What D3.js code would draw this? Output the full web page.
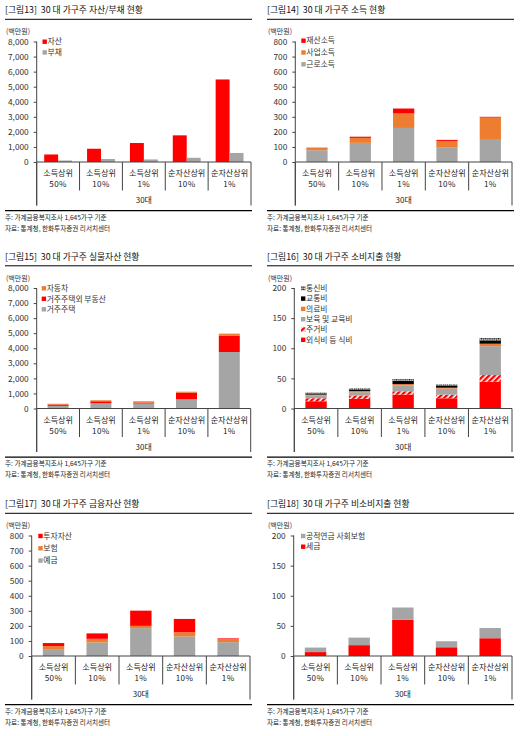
<!DOCTYPE html>
<html>
<head>
<meta charset="utf-8">
<script src="https://cdn.jsdelivr.net/npm/d3@7"></script>
<style>
body { margin: 0; background: #fff; }
text { font-family: "Noto Sans CJK KR", "Noto Sans", sans-serif; }
</style>
</head>
<body>
<svg id="chart" width="525" height="736"></svg>
<script>
// categories (two-line labels) shared by every panel
var cat1 = ["소득상위", "소득상위", "소득상위", "순자산상위", "순자산상위"];
var cat2 = ["50%", "10%", "1%", "10%", "1%"];
var groupLabel = "30대";

// 그림13 자산/부채
var assets = [500, 880, 1260, 1770, 5480];
var debts = [100, 200, 170, 280, 600];
// 그림14 소득 (stack order bottom -> top)
var laborInc = [78, 127, 226, 95, 147];
var bizInc = [17, 33, 96, 45, 148];
var propInc = [1, 8, 33, 7, 5];
// 그림15 실물자산
var homeRE = [175, 350, 330, 610, 3750];
var otherRE = [90, 130, 65, 440, 1070];
var cars = [50, 65, 85, 65, 150];
// 그림16 소비지출
var food = [12, 16, 23, 17, 44.5];
var housing = [5, 5.5, 5.5, 6, 11];
var eduCare = [4.5, 5.5, 10, 10, 48];
var medical = [1.5, 2, 2, 1.5, 4];
var transport = [2, 2.5, 5.5, 3.5, 5.5];
var telecom = [1.5, 2.5, 3, 2.5, 4];
// 그림17 금융자산
var deposits = [46, 90, 185, 130, 92];
var insurance = [20, 24, 15, 28, 20];
var investments = [20, 36, 101, 88, 5];
// 그림18 비소비지출
var taxes = [6.5, 18, 60, 14.5, 29.5];
var socialIns = [7.5, 12.5, 20.5, 10, 17];

var note1 = "주: 가계금융복지조사 1,645가구 기준";
var note2 = "자료: 통계청, 한화투자증권 리서치센터";

var RED = "#FF0000", GREY = "#A5A5A5", ORANGE = "#ED7D31", BLACK = "#000000";

var svg = d3.select("#chart");
var defs = svg.append("defs");

// red/white diagonal hatch for 주거비
var hatch = defs.append("pattern").attr("id", "hatchRed")
    .attr("patternUnits", "userSpaceOnUse").attr("width", 4).attr("height", 4)
    .attr("patternTransform", "rotate(45)");
hatch.append("rect").attr("width", 4).attr("height", 4).attr("fill", "#fff");
hatch.append("rect").attr("width", 2.4).attr("height", 4).attr("fill", RED);

// black/white checks for 통신비
var check = defs.append("pattern").attr("id", "checkBlack")
    .attr("patternUnits", "userSpaceOnUse").attr("width", 3).attr("height", 3)
    .attr("patternTransform", "rotate(45)");
check.append("rect").attr("width", 3).attr("height", 3).attr("fill", "#fff");
check.append("rect").attr("width", 1.5).attr("height", 1.5).attr("fill", BLACK);
check.append("rect").attr("x", 1.5).attr("y", 1.5).attr("width", 1.5).attr("height", 1.5).attr("fill", BLACK);

var rowBase = [0, 246.5, 494];
var colBase = [0, 262];

// vertical layout inside a row
var TITLE_Y = 10, RULE_Y = 19.3, UNIT_Y = 31.7, TOP = 41.5, ZERO = 162,
    CAT1_Y = 173.5, CAT2_Y = 184.5, SEP_END = 190.5, GROUP_Y = 200.5,
    OUTER_END = 205.5, BOTTOM_RULE = 210.7, NOTE1_Y = 217.5, NOTE2_Y = 228.5;

var SP = "\u00a0\u00a0";

var panels = [
    { col: 0, row: 0, title: "[그림13]" + SP + "30 대 가구주 자산/부채 현황", max: 8000, step: 1000,
      fmt: d3.format(","), axisX: 36.7, right: 251, mode: "group",
      series: [{ name: "자산", values: assets, fill: RED }, { name: "부채", values: debts, fill: GREY }],
      legend: { x: 42.5, y: 41.7, dy: 10.7 } },
    { col: 1, row: 0, title: "[그림14]" + SP + "30 대 가구주 소득 현황", max: 800, step: 100,
      fmt: d3.format("d"), axisX: 295.3, right: 512, mode: "stack",
      series: [{ name: "근로소득", values: laborInc, fill: GREY },
               { name: "사업소득", values: bizInc, fill: ORANGE },
               { name: "재산소득", values: propInc, fill: RED }],
      legend: { x: 301.3, y: 40.7, dy: 11.8 } },
    { col: 0, row: 1, title: "[그림15]" + SP + "30 대 가구주 실물자산 현황", max: 8000, step: 1000,
      fmt: d3.format(","), axisX: 36.7, right: 250.7, mode: "stack",
      series: [{ name: "거주주택", values: homeRE, fill: GREY },
               { name: "거주주택외 부동산", values: otherRE, fill: RED },
               { name: "자동차", values: cars, fill: ORANGE }],
      legend: { x: 41.7, y: 41.8, dy: 10.5 } },
    { col: 1, row: 1, title: "[그림16]" + SP + "30 대 가구주 소비지출 현황", max: 200, step: 50,
      fmt: d3.format("d"), axisX: 294.3, right: 512, mode: "stack",
      series: [{ name: "외식비 등 식비", values: food, fill: RED },
               { name: "주거비", values: housing, fill: "url(#hatchRed)" },
               { name: "보육 및 교육비", values: eduCare, fill: GREY },
               { name: "의료비", values: medical, fill: ORANGE },
               { name: "교통비", values: transport, fill: BLACK },
               { name: "통신비", values: telecom, fill: "url(#checkBlack)" }],
      legend: { x: 301, y: 41.8, dy: 10.3 } },
    { col: 0, row: 2, title: "[그림17]" + SP + "30 대 가구주 금융자산 현황", max: 800, step: 100,
      fmt: d3.format("d"), axisX: 31.7, right: 250, mode: "stack",
      series: [{ name: "예금", values: deposits, fill: GREY },
               { name: "보험", values: insurance, fill: ORANGE },
               { name: "투자자산", values: investments, fill: RED }],
      legend: { x: 38.3, y: 42, dy: 12.3 } },
    { col: 1, row: 2, title: "[그림18]" + SP + "30 대 가구주 비소비지출 현황", max: 200, step: 50,
      fmt: d3.format("d"), axisX: 293.7, right: 512, mode: "stack",
      series: [{ name: "세금", values: taxes, fill: RED },
               { name: "공적연금 사회보험", values: socialIns, fill: GREY }],
      legend: { x: 301, y: 42, dy: 10.7 } }
];

function drawPanel(p) {
    var ox = colBase[p.col];
    var g = svg.append("g").attr("transform", "translate(0," + rowBase[p.row] + ")");

    g.append("text").attr("x", ox + 5).attr("y", TITLE_Y).attr("dy", "0.35em")
        .attr("font-size", 8.8).attr("fill", "#111").text(p.title);
    g.append("line").attr("x1", ox + 5).attr("x2", ox + 252)
        .attr("y1", RULE_Y).attr("y2", RULE_Y).attr("stroke", "#000").attr("stroke-width", 1);
    g.append("text").attr("x", ox + 6).attr("y", UNIT_Y).attr("dy", "0.35em")
        .attr("font-size", 7).attr("fill", "#333").text("(백만원)");

    var y = d3.scaleLinear().domain([0, p.max]).range([ZERO, TOP]);
    var x = d3.scaleBand().domain(d3.range(cat1.length)).range([p.axisX, p.right]);

    // bars
    if (p.mode === "group") {
        var groupW = x.bandwidth() * 0.65;
        var inner = d3.scaleBand().domain(p.series.map(function (s) { return s.name; })).range([0, groupW]);
        p.series.forEach(function (s) {
            g.append("g").selectAll("rect").data(s.values).enter().append("rect")
                .attr("x", function (d, i) { return x(i) + (x.bandwidth() - groupW) / 2 + inner(s.name); })
                .attr("width", inner.bandwidth())
                .attr("y", function (d) { return y(d); })
                .attr("height", function (d) { return y(0) - y(d); })
                .attr("fill", s.fill);
        });
    } else {
        var table = cat1.map(function (c, i) {
            var row = { i: i };
            p.series.forEach(function (s) { row[s.name] = s.values[i]; });
            return row;
        });
        var stacked = d3.stack().keys(p.series.map(function (s) { return s.name; }))(table);
        var barW = x.bandwidth() * 0.49;
        stacked.forEach(function (layer, k) {
            g.append("g").selectAll("rect").data(layer).enter().append("rect")
                .attr("x", function (d) { return x(d.data.i) + (x.bandwidth() - barW) / 2; })
                .attr("width", barW)
                .attr("y", function (d) { return y(d[1]); })
                .attr("height", function (d) { return y(d[0]) - y(d[1]); })
                .attr("fill", p.series[k].fill);
        });
    }

    // y axis
    var yAxis = d3.axisLeft(y).tickValues(d3.range(0, p.max + 1, p.step))
        .tickSize(3).tickPadding(5).tickFormat(p.fmt);
    var ya = g.append("g").attr("transform", "translate(" + p.axisX + ",0)").call(yAxis);
    ya.select(".domain").remove();
    ya.selectAll("line").attr("stroke", "#444");
    ya.selectAll("text").attr("font-size", 8.3).attr("fill", "#333")
        .style("font-family", "'Noto Sans CJK KR', 'Noto Sans', sans-serif");
    g.append("line").attr("x1", p.axisX).attr("x2", p.axisX).attr("y1", TOP).attr("y2", OUTER_END)
        .attr("stroke", "#444");

    // x axis: baseline, category separators, labels
    g.append("line").attr("x1", p.axisX).attr("x2", p.right).attr("y1", ZERO).attr("y2", ZERO)
        .attr("stroke", "#444");
    var bounds = d3.range(cat1.length + 1).map(function (i) {
        return i < cat1.length ? x(i) : x(cat1.length - 1) + x.bandwidth();
    });
    g.append("g").selectAll("line").data(bounds).enter().append("line")
        .attr("x1", function (d) { return d; }).attr("x2", function (d) { return d; })
        .attr("y1", ZERO)
        .attr("y2", function (d, i) { return (i === 0 || i === cat1.length) ? OUTER_END : SEP_END; })
        .attr("stroke", "#444");
    var labels = g.append("g").selectAll("g").data(cat1).enter().append("g");
    labels.append("text")
        .attr("x", function (d, i) { return x(i) + x.bandwidth() / 2; }).attr("y", CAT1_Y)
        .attr("dy", "0.35em").attr("text-anchor", "middle").attr("font-size", 8.1).attr("fill", "#222")
        .text(function (d) { return d; });
    labels.append("text")
        .attr("x", function (d, i) { return x(i) + x.bandwidth() / 2; }).attr("y", CAT2_Y)
        .attr("dy", "0.35em").attr("text-anchor", "middle").attr("font-size", 8.1).attr("fill", "#222")
        .attr("letter-spacing", 0.4)
        .text(function (d, i) { return cat2[i]; });
    g.append("text").attr("x", (p.axisX + p.right) / 2).attr("y", GROUP_Y).attr("dy", "0.35em")
        .attr("text-anchor", "middle").attr("font-size", 8).attr("fill", "#222").text(groupLabel);

    // legend (stacked panels list top layer first)
    var leg = p.mode === "stack" ? p.series.slice().reverse() : p.series;
    var lg = g.append("g").selectAll("g").data(leg).enter().append("g")
        .attr("transform", function (d, i) { return "translate(" + p.legend.x + "," + (p.legend.y + i * p.legend.dy) + ")"; });
    lg.append("rect").attr("x", 0).attr("y", -2.2).attr("width", 4.4).attr("height", 4.4)
        .attr("fill", function (d) { return d.fill; });
    lg.append("text").attr("x", 5).attr("y", 0).attr("dy", "0.35em").attr("font-size", 7.8)
        .attr("fill", "#333").text(function (d) { return d.name; });

    // footer
    g.append("line").attr("x1", ox + 5).attr("x2", ox + 252)
        .attr("y1", BOTTOM_RULE).attr("y2", BOTTOM_RULE).attr("stroke", "#000").attr("stroke-width", 1.2);
    g.append("text").attr("x", ox + 5).attr("y", NOTE1_Y).attr("dy", "0.35em")
        .attr("font-size", 6.6).attr("fill", "#222").text(note1);
    g.append("text").attr("x", ox + 5).attr("y", NOTE2_Y).attr("dy", "0.35em")
        .attr("font-size", 6.6).attr("fill", "#222").text(note2);
}

panels.forEach(drawPanel);
</script>
</body>
</html>
